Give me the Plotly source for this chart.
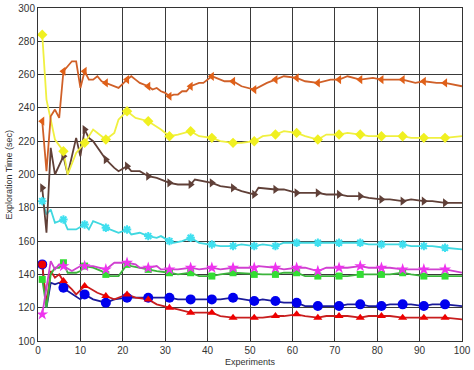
import plotly.graph_objects as go

# ---- data ----
orange_x = [1,2,3,4,5,6,7,8,9,10,11,12,13,14,15,16,17,18,19,21,22,23,24,26,27,28,29,30,31,32,33,34,35,36,37,38,39,41,42,43,44,46,48,51,53,54,56,58,61,63,66,69,71,73,76,79,81,83,86,89,91,94,96,100]
orange_y = [232,202,235,239,234,262,265,268,268,252,262,257,257,259,256,255,254,253,252,257,259,257,255,253,251,252,250,249,247,248,248,250,250,253,254,255,255,259,258,257,256,256,253,251,254,255,257,259,258,256,255,257,257,259,257,258,257,257,257,255,256,255,255,253]

yellow_x = [1,2,3,4,6,7,9,11,13,14,16,18,19,21,23,26,29,31,33,36,38,41,43,46,48,51,53,56,58,61,63,66,68,71,73,76,78,81,83,86,88,91,93,96,100]
yellow_y = [284,245,233,221,214,200,213,219,227,225,221,225,233,238,234,232,227,223,224,226,223,222,220,219,219,220,223,224,226,225,223,221,224,224,225,224,223,223,223,223,222,222,222,222,223]

brown_x = [1,2,3,4,6,7,9,10,11,12,13,16,18,19,21,22,24,26,28,30,31,33,36,37,41,43,46,48,51,52,56,58,61,63,66,68,71,73,76,78,81,83,86,88,91,93,96,100]
brown_y = [192,165,216,200,211,200,222,211,227,222,220,209,204,202,205,202,202,199,198,196,195,194,194,197,195,193,192,190,188,192,191,191,189,189,189,188,188,187,187,186,185,185,184,185,184,184,183,183]

cyan_x = [1,2,3,4,6,7,9,11,12,13,15,16,18,19,21,22,24,26,28,29,31,32,34,36,38,41,43,46,48,51,53,56,58,61,63,66,68,71,73,76,78,81,83,86,88,91,93,96,100]
cyan_y = [184,176,179,171,173,167,167,170,167,172,170,168,166,165,167,164,165,163,162,163,160,159,160,162,159,158,157,157,158,157,158,157,159,159,159,159,159,159,159,159,158,158,158,158,157,157,157,156,155]

magenta_x = [1,3,4,5,6,8,10,11,13,16,18,19,21,23,24,26,28,29,31,33,36,38,41,43,46,48,51,52,56,58,61,63,66,68,71,73,76,78,81,83,86,88,91,93,96,100]
magenta_y = [116,148,143,146,145,142,145,145,145,143,147,147,147,146,144,144,145,143,143,143,144,143,144,143,144,144,144,145,144,143,144,144,142,144,144,144,145,144,144,144,143,143,143,143,143,141]

green_x = [1,2,3,4,5,6,7,9,10,11,13,15,16,17,19,21,22,24,26,28,31,33,36,38,41,43,46,51,53,56,58,61,63,66,68,71,73,76,78,81,83,86,88,91,93,96,100]
green_y = [137,120,140,144,144,147,141,141,142,145,144,142,140,139,139,146,145,144,143,142,141,140,141,139,139,140,141,140,140,140,141,141,139,139,139,139,139,140,140,140,140,141,140,139,139,139,139]

blue_x = [1,2,3,4,5,6,7,10,11,13,16,18,21,23,26,28,31,33,36,38,41,43,46,51,53,56,58,61,63,66,68,71,73,76,78,81,83,86,88,91,93,96,100]
blue_y = [146,120,135,134,135,132,130,125,128,125,123,125,126,126,126,126,126,125,125,125,125,125,126,124,125,124,123,123,121,121,121,121,122,122,121,121,122,122,122,121,122,122,121]

red_x = [1,2,3,4,5,6,8,9,11,12,14,16,18,21,23,26,28,31,33,36,38,41,43,46,51,53,56,58,61,63,66,68,71,73,76,78,81,83,86,89,91,94,96,100]
red_y = [146,122,142,138,140,136,131,128,133,132,129,127,125,128,126,125,122,120,119,117,117,117,115,114,114,114,115,115,116,115,114,115,115,115,114,115,115,115,114,114,114,114,114,113]

marker_x = list(range(1, 100, 5))
x_ticks = [0,10,20,30,40,50,60,70,80,90,100]
y_ticks = [100,120,140,160,180,200,220,240,260,280,300]

series = [
    # x, y, line colour, marker colour, symbol, size
    (blue_x, blue_y, "#1a1a9a", "#0000ee", "circle", 10),
    (red_x, red_y, "#c81e1e", "#ee0000", "triangle-up", 8),
    (green_x, green_y, "#3cb43c", "#33dd33", "square", 7),
    (magenta_x, magenta_y, "#d040d0", "#ee33ee", "star", 9),
    (cyan_x, cyan_y, "#40d8e0", "#40e0f0", "asterisk-open", 7),
    (brown_x, brown_y, "#604038", "#604038", "triangle-right", 8),
    (yellow_x, yellow_y, "#f0f040", "#f0f020", "diamond", 8),
    (orange_x, orange_y, "#d06028", "#e06018", "triangle-left", 8),
]

fig = go.Figure()
for i, (xs, ys, lc, mc, sym, sz) in enumerate(series):
    fig.add_trace(go.Scatter(x=xs, y=ys, mode="lines",
                             line=dict(color=lc, width=1.8), showlegend=False,
                             hoverinfo="skip"))
for i, (xs, ys, lc, mc, sym, sz) in enumerate(series):
    mx = [x for x in xs if x in marker_x]
    my = [y for x, y in zip(xs, ys) if x in marker_x]
    symbols = [sym] * len(mx)
    colors = [mc] * len(mx)
    if i == 1:  # red series starts with a circle marker
        symbols[0] = "circle"
    line_w = 2 if sym == "asterisk-open" else 0
    fig.add_trace(go.Scatter(x=mx, y=my, mode="markers",
                             marker=dict(symbol=symbols, color=colors, size=sz,
                                         line=dict(color=mc, width=line_w)),
                             showlegend=False))

axis_common = dict(showgrid=True, gridcolor="#3a3a3a", gridwidth=1,
                   showline=True, linecolor="#333333", linewidth=1, mirror=True,
                   ticks="inside", ticklen=3, tickcolor="#333333",
                   tickfont=dict(family="Liberation Sans, Arial", size=10, color="#333333"),
                   zeroline=False, automargin=False)

fig.update_layout(
    width=474, height=370,
    margin=dict(l=38, r=12, t=8, b=29),
    paper_bgcolor="white", plot_bgcolor="white",
    xaxis=dict(range=[0, 100], tickvals=x_ticks, **axis_common),
    yaxis=dict(range=[100, 300], tickvals=y_ticks, **axis_common),
    annotations=[
        dict(text="Experiments", x=0.5, y=0, xref="paper", yref="paper",
             xanchor="center", yanchor="middle", yshift=-21, showarrow=False,
             font=dict(family="Liberation Sans, Arial", size=9, color="#333333")),
        dict(text="Exploration Time (sec)", x=0, y=0.5, xref="paper", yref="paper",
             xanchor="center", yanchor="middle", xshift=-30, textangle=-90,
             showarrow=False,
             font=dict(family="Liberation Sans, Arial", size=9, color="#333333")),
    ],
)

fig.write_html("out.html", config={"displayModeBar": False},
               post_script="document.body.style.margin='0';")
